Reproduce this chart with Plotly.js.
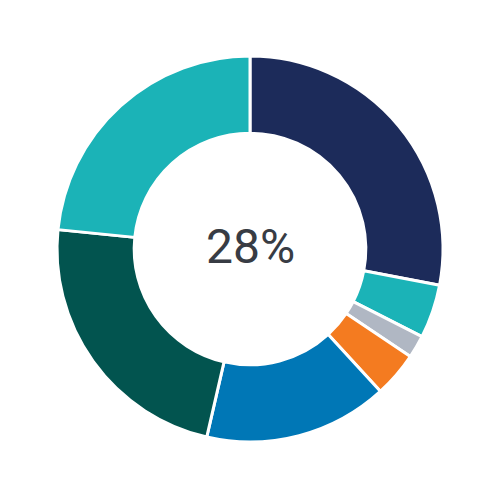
<!DOCTYPE html>
<html>
<head>
<meta charset="utf-8">
<script src="https://cdn.plot.ly/plotly-3.0.1.min.js"></script>
<style>
    html, body { margin: 0; padding: 0; background: #ffffff; }
    #chart { width: 500px; height: 500px; }
</style>
</head>
<body>
<div id="chart"></div>
<script>
// Slices clockwise from 12 o'clock
const sliceLabels = ["A", "B", "C", "D", "E", "F", "G"];
const sliceValues = [28, 4.5, 1.9, 3.8, 15.4, 23.0, 23.4];
const sliceColors = ["#1c2b5a", "#1bb3b7", "#b0b7c3", "#f47b20", "#0077b6", "#02544f", "#1bb3b7"];
const centerLabel = "28%";

const data = [{
    type: "pie",
    labels: sliceLabels,
    values: sliceValues,
    sort: false,
    direction: "clockwise",
    rotation: 0,
    hole: 0.6,
    textinfo: "none",
    hoverinfo: "none",
    marker: {
        colors: sliceColors,
        line: { color: "#ffffff", width: 3 }
    }
}];

const layout = {
    width: 500,
    height: 500,
    showlegend: false,
    paper_bgcolor: "#ffffff",
    margin: { l: 57, r: 57, t: 56, b: 58 },
    annotations: [{
        text: centerLabel,
        x: 0.5,
        y: 0.5,
        xref: "paper",
        yref: "paper",
        yshift: 3,
        showarrow: false,
        font: { family: "Roboto", size: 48, color: "#383c44" }
    }]
};

Plotly.newPlot("chart", data, layout, { displayModeBar: false, staticPlot: true });
</script>
</body>
</html>
